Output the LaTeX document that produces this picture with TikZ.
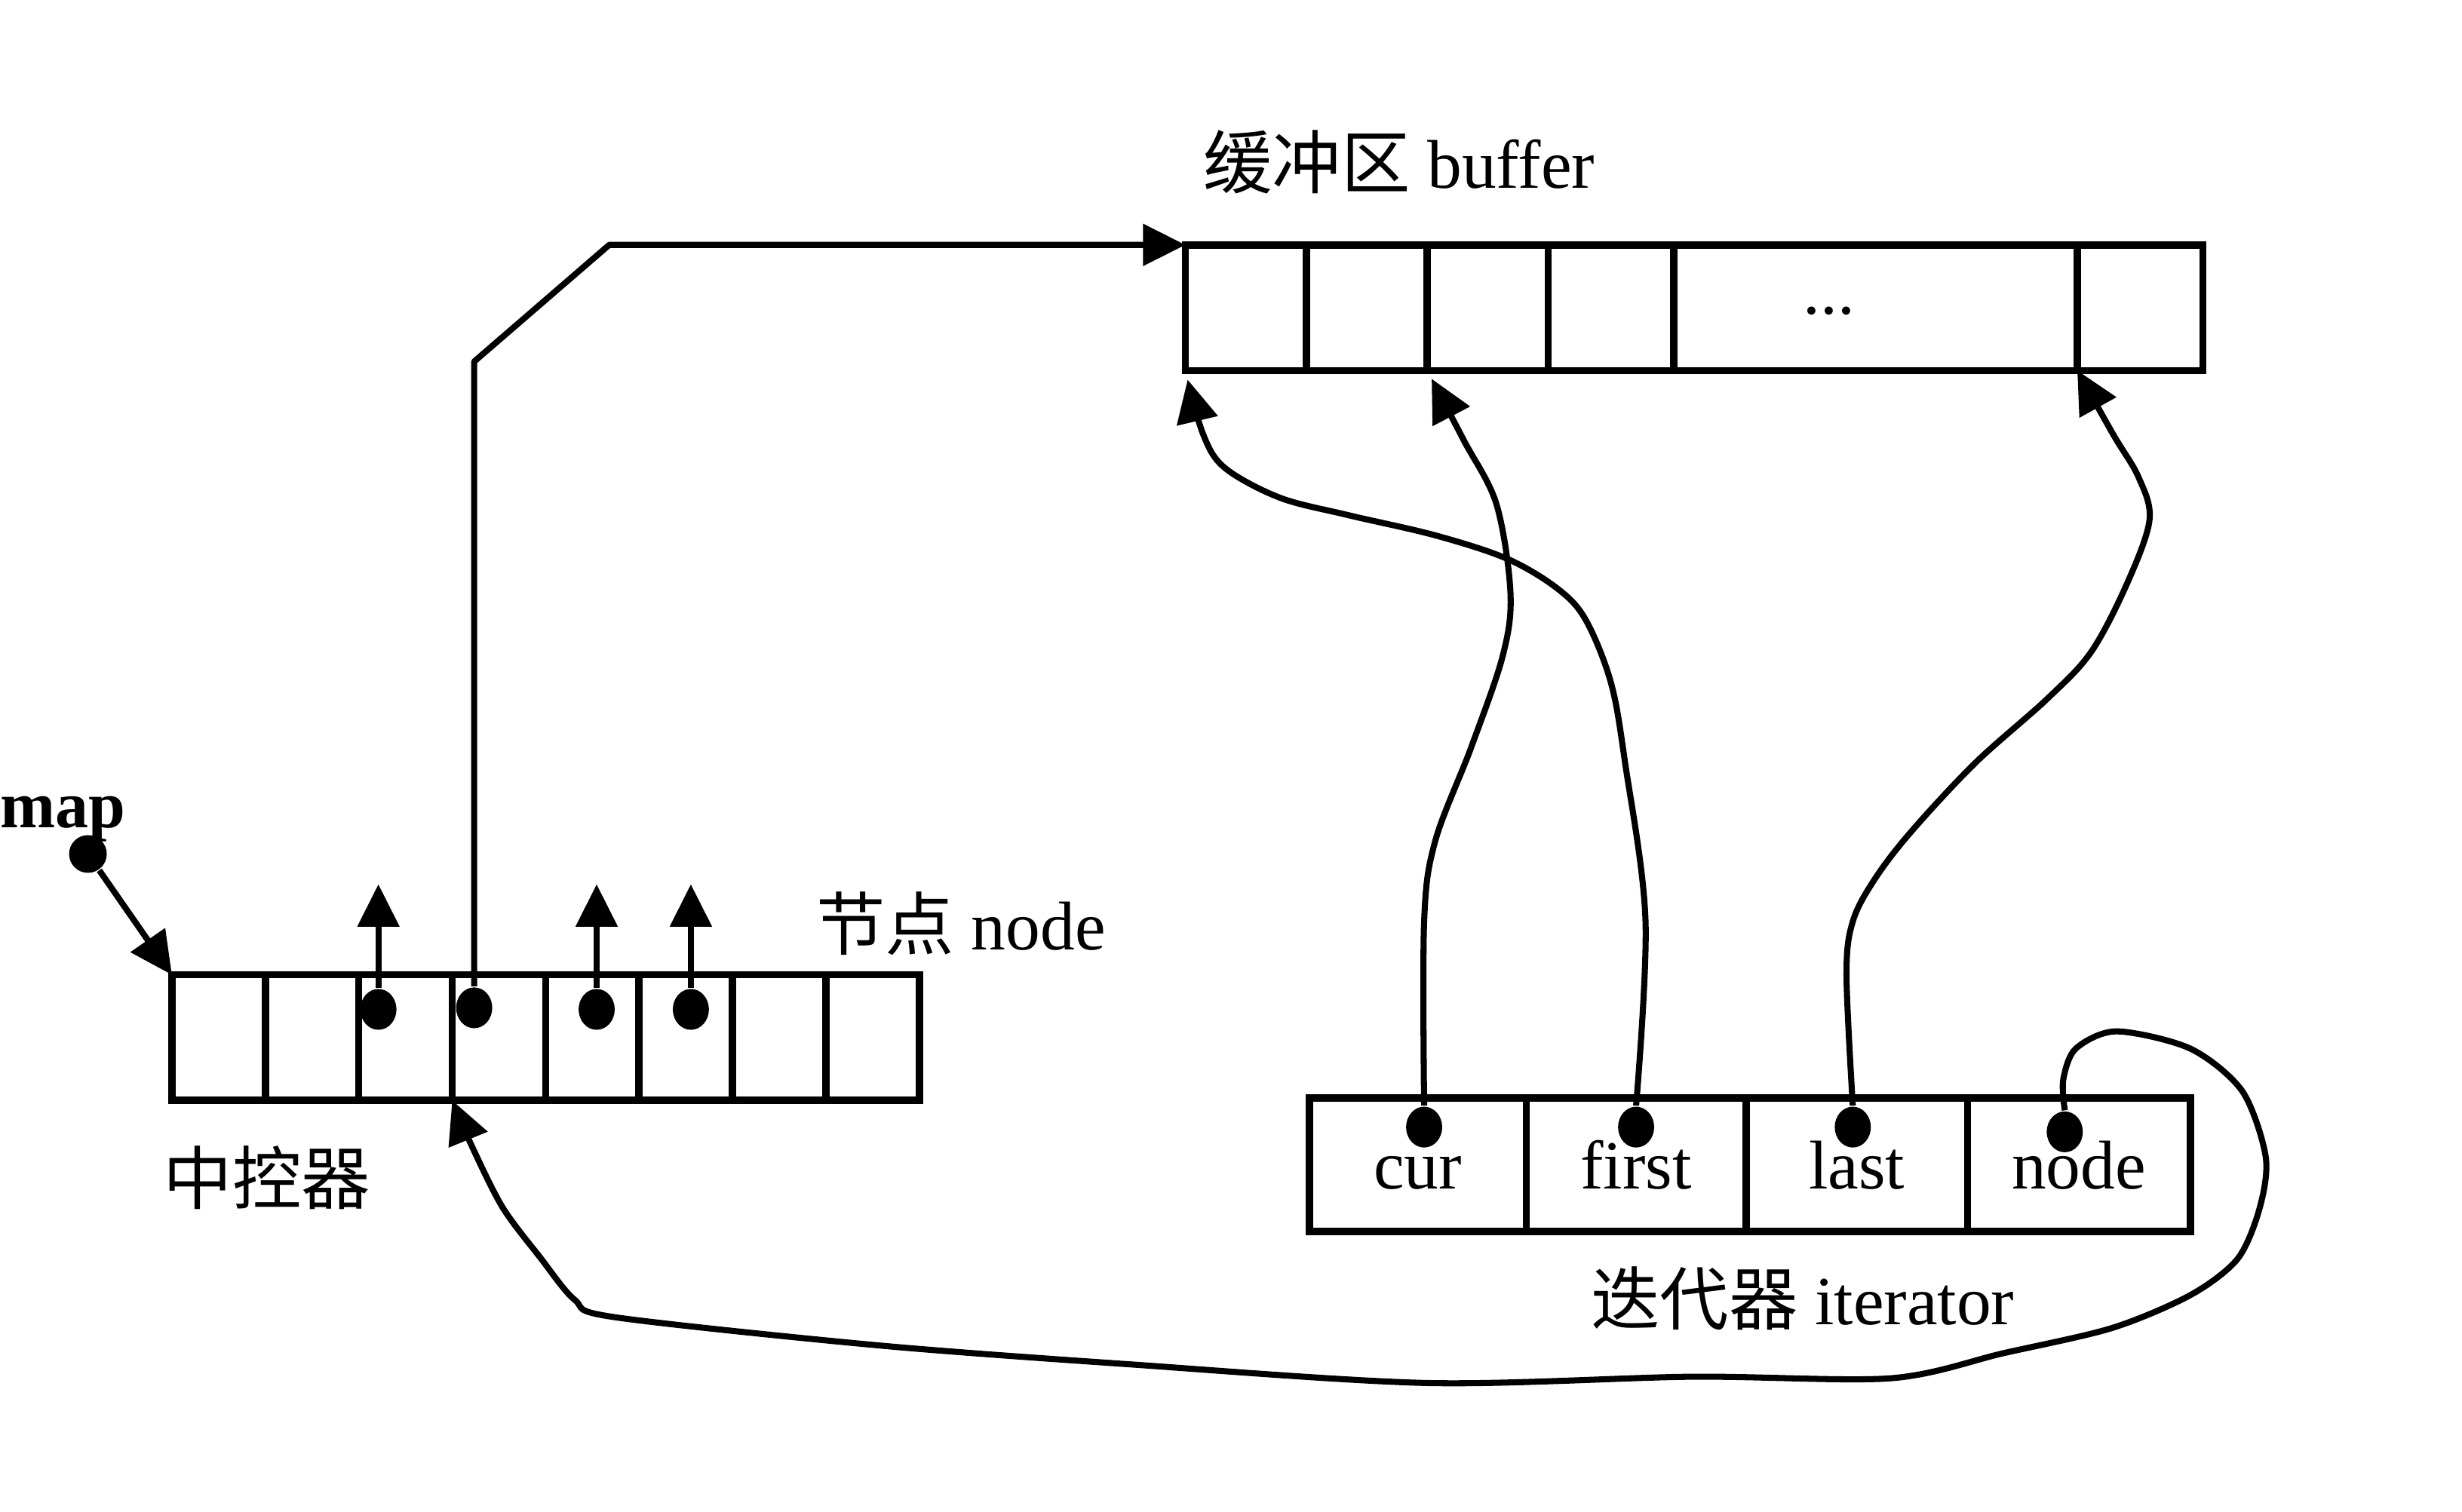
\documentclass[tikz,border=0pt]{standalone}
\usepackage{fontspec}
\setmainfont{Liberation Serif}
\newfontfamily\cjk{Noto Sans CJK SC}
\usetikzlibrary{arrows.meta,shapes.geometric}

\begin{document}
\begin{tikzpicture}[x=0.1mm, y=-0.1mm,
        every node/.style={font=\fontsize{12.5}{15}\selectfont},
        cell/.style={draw, line width=1.3pt, inner sep=0pt, outer sep=0pt},
        dot/.style={ellipse, fill, inner sep=0pt, minimum width=2.3mm, minimum height=2.6mm},
        ptr/.style={line width=1.1pt, -{Triangle[length=2.7mm, width=2.6mm]}}]
        \useasboundingbox (0,0) rectangle (1568,963);

        % Buffer
        \foreach \l/\r [count=\i] in {755/832, 832/909, 909/986, 986/1066, 1066/1323, 1323/1403}
            \node[cell, minimum width={(\r-\l)*0.1mm}, minimum height=8mm] (b\i) at ({(\l+\r)/2},196) {};
        \node (etc) at (1165,198) {...};
        \node[anchor=base] (buftitle) at (891,120) {{\cjk 缓冲区} buffer};

        % Map (control center)
        \foreach \i in {1,...,8}
            \node[cell, minimum width=5.95mm, minimum height=8mm] (m\i) at ({109.5+59.5*(\i-0.5)},661) {};
        \node[anchor=base] (nodetitle) at (612,605) {{\cjk 节点} node};
        \node (ctrl) at (170,750) {\cjk 中控器};

        % Iterator
        \foreach \l/\r/\t [count=\i] in {834/972/cur, 972/1112/first, 1112/1253/last, 1253/1395/node}
            \node[cell, minimum width={(\r-\l)*0.1mm}, minimum height=8.5mm,
                text height=3.1mm, text depth=0pt] (it\i) at ({(\l+\r)/2},742) {\t};
        \node[anchor=base] (ittitle) at (1148,844) {{\cjk 迭代器} iterator};

        % Dots
        \node[dot] (dm3) at (241,643) {};
        \node[dot] (dm4) at (302,642) {};
        \node[dot] (dm5) at (380,643) {};
        \node[dot] (dm6) at (440,643) {};
        \node[dot] (dcur) at (907,718) {};
        \node[dot] (dfirst) at (1042,718) {};
        \node[dot] (dlast) at (1180,718) {};
        \node[dot] (dnode) at (1315,721) {};

        % map pointer
        \node[dot, minimum width=2.4mm, minimum height=2.4mm] (mapdot) at (56,544) {};
        \node[anchor=base, font=\bfseries\fontsize{12}{14}\selectfont] (maplbl) at (40,527) {map};
        \draw[ptr] (mapdot) -- (m1.north west);

        % Node pointers
        \draw[ptr] (dm3.north) -- ++(0,-66);
        \draw[ptr] (dm5.north) -- ++(0,-66);
        \draw[ptr] (dm6.north) -- ++(0,-66);
        \draw[ptr, line join=round] (dm4.north) -- ++(0,-398) -- (388,156) -- (b1.north west);

        % Iterator pointers
        \draw[ptr, shorten >=0.6mm] plot[smooth, tension=0.55] coordinates {
            (dcur.north) (907,587) (914,536) (937,476) (957,418) (962,378)
            (953,321) (932,280) (b3.south west)};
        \draw[ptr, shorten >=0.6mm] plot[smooth, tension=0.55] coordinates {
            (dfirst.north) (1048,587) (1035,486) (1026,435) (1010,395) (992,375)
            (960,356) (914,341) (858,328) (815,317) (780,298) (766,276) (b1.south west)};
        \draw[ptr] plot[smooth, tension=0.55] coordinates {
            (dlast.north) (1176,621) (1180,587) (1194,560) (1217,530) (1258,486)
            (1304,445) (1332,415) (1355,371) (1369,331) (1362,304) (1346,277) (b6.south west)};
        \draw[ptr] plot[smooth, tension=0.5] coordinates {
            (dnode.north) (1314,688) (1322,668) (1348,657) (1395,668) (1428,695)
            (1443,737) (1439,770) (1425,802) (1395,825) (1345,846) (1276,862)
            (1204,878) (1077,877) (909,881) (718,869) (559,857) (391,839)
            (366,828) (344,801) (320,769) (300,729) (m4.south west)};
\end{tikzpicture}
\end{document}
